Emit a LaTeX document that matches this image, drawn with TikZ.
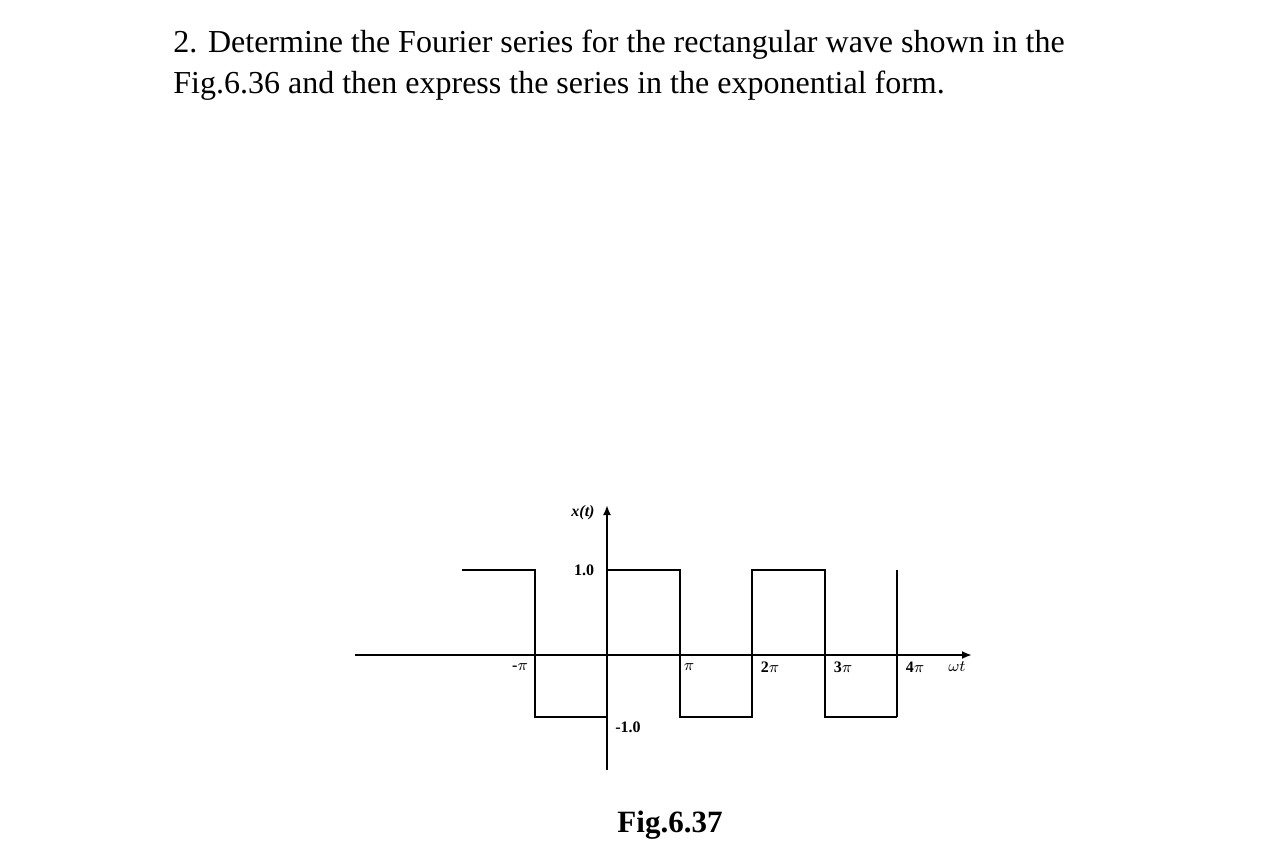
\documentclass[tikz,border=0pt]{standalone}
\usepackage{fontspec}
\setmainfont{Liberation Serif}
\usetikzlibrary{arrows.meta}
\begin{document}
\begin{tikzpicture}[x=0.5pt,y=-0.5pt,
  wave/.style={line width=1.4pt},
  ax/.style={line width=1pt},
  lbl/.style={font=\fontsize{8}{9}\selectfont\bfseries, inner sep=0pt},
  ttl/.style={font=\fontsize{16}{18}\selectfont, anchor=base west, inner sep=0pt}]
\useasboundingbox (0,0) rectangle (1280,859);
\node[ttl] (t1) at (173,52) {2. Determine the Fourier series for the rectangular wave shown in the};
\node[ttl] (t2) at (173,93) {Fig.6.36 and then express the series in the exponential form.};
\coordinate (xl) at (355,655);
\coordinate (xr) at (972,655);
\coordinate (yb) at (607,770);
\coordinate (yt) at (607,505);
\draw[ax,-{Latex[length=5pt,width=4pt]}] (xl) -- (xr);
\draw[ax,-{Latex[length=5pt,width=4pt]}] (yb) -- (yt);
\draw[wave] (462,570) -- (535,570) -- (535,717) -- (607,717) -- (607,570) -- (680,570) -- (680,717) -- (752,717) -- (752,570) -- (825,570) -- (825,717) -- (897,717);
\draw[ax] (897,717) -- (897,570);
\node[lbl] (nx) at (583,513) {\itshape x(t)};
\node[lbl] (n1) at (584,570) {1.0};
\node[lbl] (nm1) at (628,727) {-1.0};
\node[lbl] (mpi) at (520,667) {-$\pi$};
\node[lbl] (pi) at (689,667) {$\pi$};
\node[lbl] (p2) at (770,667) {2$\pi$};
\node[lbl] (p3) at (843,667) {3$\pi$};
\node[lbl] (p4) at (915,667) {4$\pi$};
\node[lbl] (wt) at (957,667) {$\omega t$};
\node[font=\fontsize{15.5}{17}\selectfont\bfseries] (fig) at (670,825) {Fig.6.37};
\end{tikzpicture}
\end{document}
